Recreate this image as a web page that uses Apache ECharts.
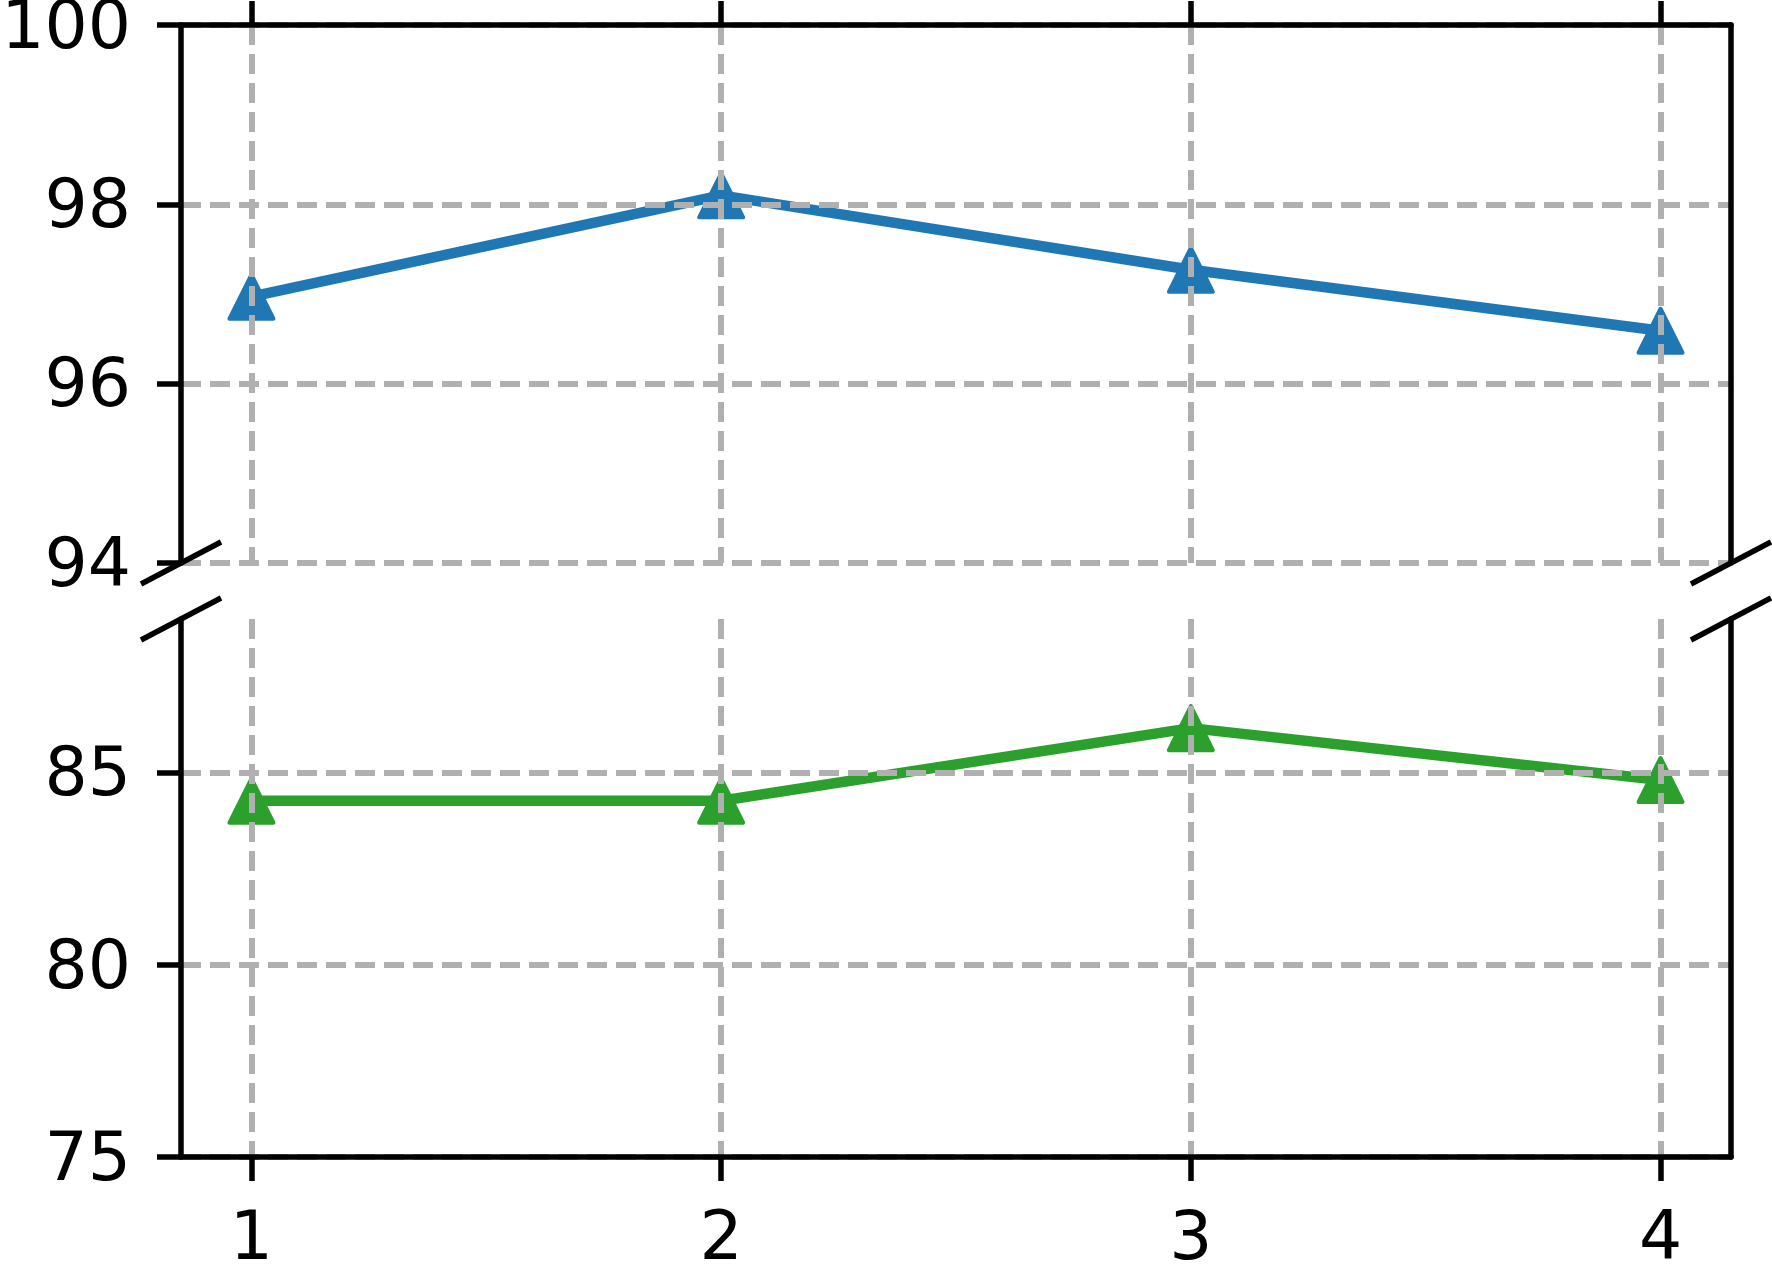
<!DOCTYPE html>
<html>
<head>
<meta charset="utf-8">
<style type="text/css">
html, body{margin: 0; padding: 0; background: #fff}
#chart{width: 1772px; height: 1274px}
</style>
</head>
<body>
<div id="chart"></div>
<script src="https://cdn.jsdelivr.net/npm/echarts@6/dist/echarts.min.js"></script>
<script type="text/javascript">
// data
var xValues = [1, 2, 3, 4];
var blueValues = [96.97, 98.10, 97.27, 96.59];
var greenValues = [84.27, 84.27, 86.16, 84.81];
var xTicks = [1, 2, 3, 4];
var topTicks = [94, 96, 98, 100];
var bottomTicks = [75, 80, 85];

// layout (px)
var W = 1772;
var gLeft = 181, gRight = 41;
var topTop = 25, topH = 538;
var botTop = 619, botH = 538;
var font = 'DejaVu Sans';
var fs = 68;

var gridLine = {show: true, lineStyle: {color: '#b0b0b0', width: 6, type: [20, 9]}};
var spine = {show: true, onZero: false, lineStyle: {color: '#000', width: 5.5}};
var tick = {show: true, inside: false, length: 24, lineStyle: {color: '#000', width: 5.5}};

function xAxis(idx, pos, labels) {
    return {
        type: 'value', gridIndex: idx, position: pos,
        min: 0.85, max: 4.15, z: 3,
        axisLine: spine,
        axisTick: Object.assign({customValues: xTicks}, tick),
        axisLabel: {show: labels, customValues: xTicks, margin: 50, color: '#000', fontFamily: font, fontSize: fs},
        splitLine: gridLine
    };
}

function yAxis(idx, min, max, ticks) {
    return {
        type: 'value', gridIndex: idx, position: 'left',
        min: min, max: max, z: 3,
        axisLine: spine,
        axisTick: Object.assign({customValues: ticks}, tick),
        axisLabel: {
            customValues: ticks, margin: 50, color: '#000', fontFamily: font, fontSize: fs,
            formatter: function (v) { return '{v|' + v + '}'; },
            rich: {v: {color: '#000', fontFamily: font, fontSize: fs, padding: [10, 0, 0, 0]}}
        },
        splitLine: gridLine
    };
}

function rightSpine(idx, min, max) {
    return {
        type: 'value', gridIndex: idx, position: 'right', min: min, max: max, z: 3,
        axisLine: spine, axisTick: {show: false}, axisLabel: {show: false}, splitLine: {show: false}
    };
}

function pairs(vals) {
    return xValues.map(function (x, i) { return [x, vals[i]]; });
}

function lineSeries(xi, yi, vals, color) {
    return {
        type: 'line', xAxisIndex: xi, yAxisIndex: yi,
        data: pairs(vals),
        symbol: 'triangle', symbolSize: 44, showAllSymbol: true,
        lineStyle: {color: color, width: 10.5},
        itemStyle: {color: color, borderColor: color, borderWidth: 4, borderJoin: 'round'},
        z: 2, animation: false
    };
}

// break marks on both sides
var breaks = [];
[gLeft, W - gRight].forEach(function (x) {
    [topTop + topH, botTop].forEach(function (y) {
        breaks.push({
            type: 'line', z: 100,
            shape: {x1: x - 40, y1: y + 21, x2: x + 40, y2: y - 21},
            style: {stroke: '#000', lineWidth: 5.5}
        });
    });
});

var chart = echarts.init(document.getElementById('chart'));
var option = {
    backgroundColor: '#fff',
    animation: false,
    grid: [
        {left: gLeft, right: gRight, top: topTop, height: topH, outerBoundsMode: 'none', containLabel: false},
        {left: gLeft, right: gRight, top: botTop, height: botH, outerBoundsMode: 'none', containLabel: false}
    ],
    xAxis: [xAxis(0, 'top', false), xAxis(1, 'bottom', true)],
    yAxis: [
        yAxis(0, 94, 100, topTicks),
        yAxis(1, 75, 89, bottomTicks),
        rightSpine(0, 94, 100),
        rightSpine(1, 75, 89)
    ],
    series: [
        lineSeries(0, 0, blueValues, '#1f77b4'),
        lineSeries(1, 1, greenValues, '#2ca02c')
    ],
    graphic: breaks
};
chart.setOption(option);
</script>
</body>
</html>
